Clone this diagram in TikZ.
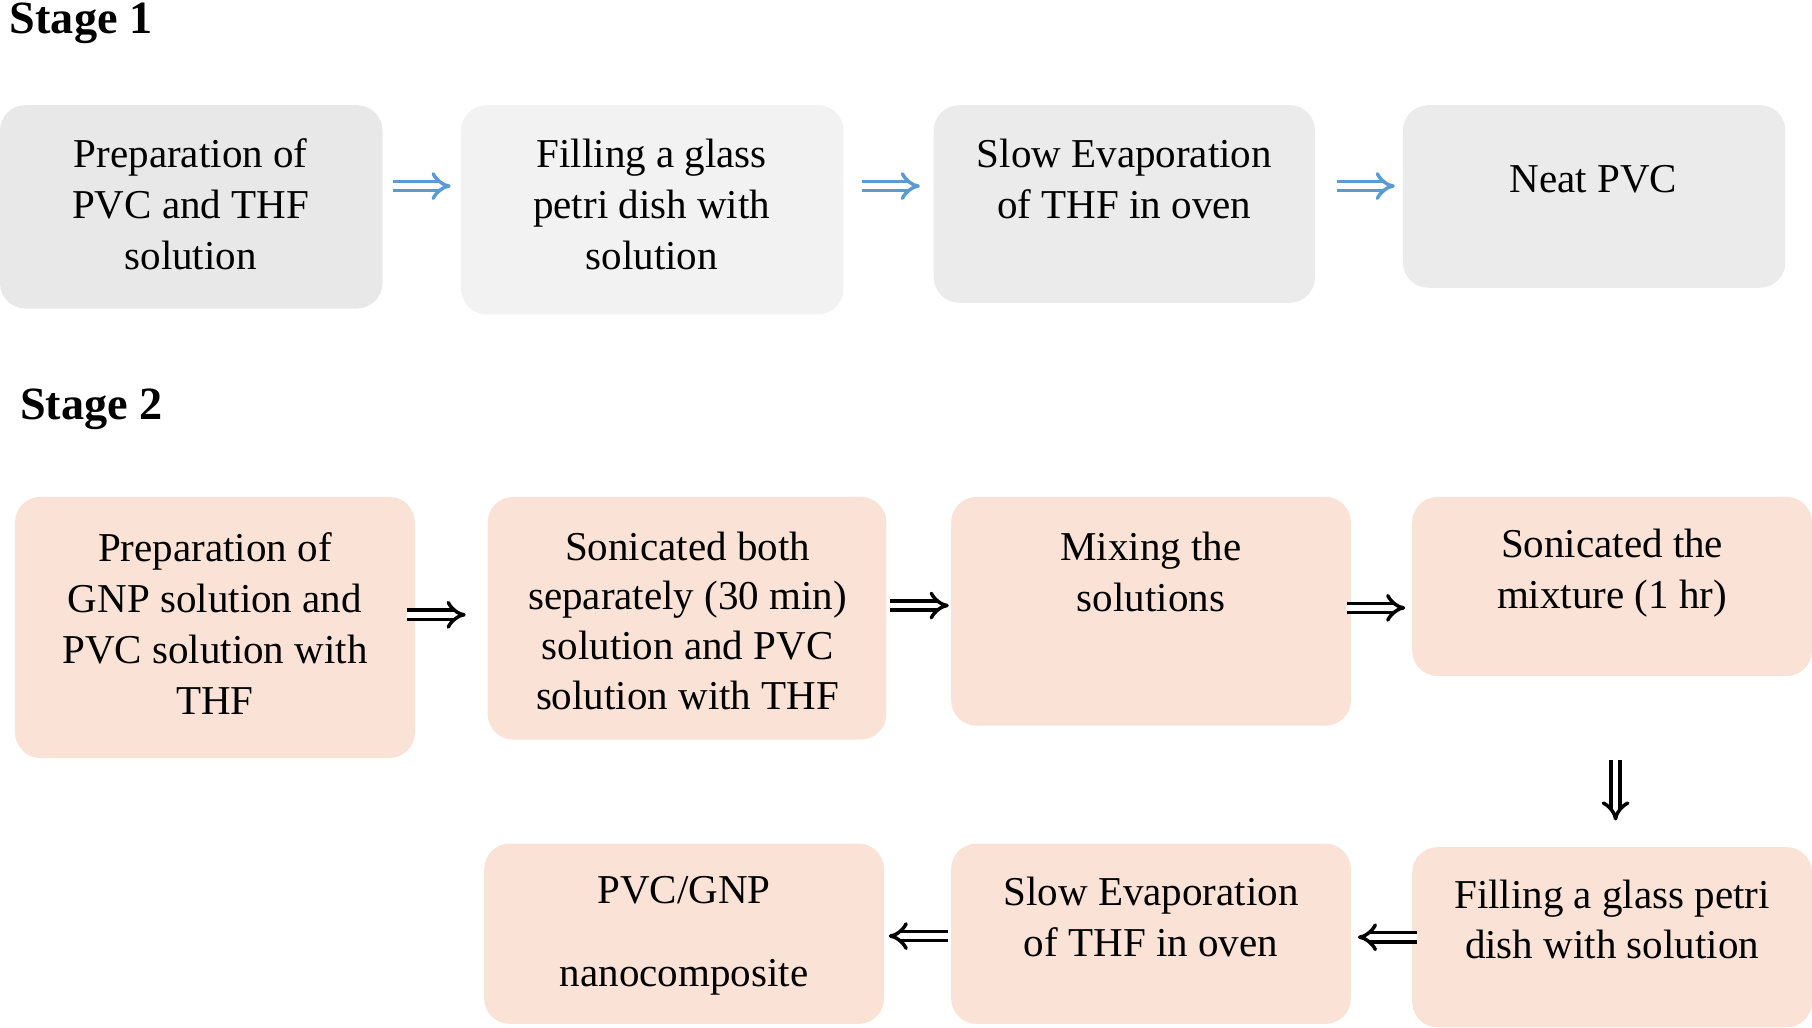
\documentclass[tikz,border=0pt]{standalone}
\usepackage{fontspec}
\setmainfont{Liberation Serif}
\usetikzlibrary{arrows.meta}
\definecolor{peach}{HTML}{FAE3D6}
\definecolor{arrblue}{HTML}{5B9BD5}
\begin{document}
\begin{tikzpicture}[x=1pt,y=-1pt,
  box/.style={draw=none,rounded corners=22pt,inner sep=0pt},
  txt/.style={anchor=north,align=center,font=\fontsize{35.5}{44}\selectfont,inner sep=0pt},
  dar/.style={double,double distance=5pt,line width=3pt,-{Implies},shorten >=0pt},
  bar/.style={dar,draw=arrblue},
  kar/.style={dar,draw=black}]
\useasboundingbox (0,0) rectangle (1568,889);
\newcommand{\bx}[6]{\node[box,fill=#6,minimum width=#4-#2,minimum height=#5-#3] (#1) at ({(#2+#4)/2},{(#3+#5)/2}) {};}
\node[anchor=west,font=\fontsize{40}{44}\selectfont\bfseries] (s1) at (5,20) {Stage 1};
\node[anchor=west,font=\fontsize{40}{44}\selectfont\bfseries] (s2) at (14,354) {Stage 2};
\bx{a1}{0}{91}{331}{267}{black!9}
\bx{a2}{399}{91}{730}{272}{black!5}
\bx{a3}{808}{91}{1138}{262}{black!8}
\bx{a4}{1214}{91}{1545}{249}{black!8}
\node[txt] (ta1) at (165,120) {Preparation of\\PVC and THF\\solution};
\node[txt] (ta2) at (564,120) {Filling a glass\\petri dish with\\solution};
\node[txt] (ta3) at (973,120) {Slow Evaporation\\of THF in oven};
\node[txt] (ta4) at (1379,143) {Neat PVC};
\coordinate (p1) at (340,161); \coordinate (p2) at (390,161);
\coordinate (p3) at (746,161); \coordinate (p4) at (796,161);
\coordinate (p5) at (1157,161); \coordinate (p6) at (1207,161);
\draw[bar] (p1) -- (p2); \draw[bar] (p3) -- (p4); \draw[bar] (p5) -- (p6);
\bx{b1}{13}{430}{359}{656}{peach}
\bx{b2}{422}{430}{767}{640}{peach}
\bx{b3}{823}{430}{1169}{628}{peach}
\bx{b4}{1222}{430}{1568}{585}{peach}
\bx{c1}{1222}{733}{1568}{889}{peach}
\bx{c2}{823}{730}{1169}{886}{peach}
\bx{c3}{419}{730}{765}{886}{peach}
\node[txt] (tb1) at (186,461) {Preparation of\\GNP solution and\\PVC solution with\\THF};
\node[txt,font=\fontsize{35.5}{43}\selectfont] (tb2) at (595,460) {Sonicated both\\separately (30 min)\\solution and PVC\\solution with THF};
\node[txt] (tb3) at (996,460) {Mixing the\\solutions};
\node[txt] (tb4) at (1395,458) {Sonicated the\\mixture (1 hr)};
\node[txt] (tc1) at (1395,761) {Filling a glass petri\\dish with solution};
\node[txt] (tc2) at (996,759) {Slow Evaporation\\of THF in oven};
\node[txt,font=\fontsize{35.5}{72}\selectfont] (tc3) at (592,758) {PVC/GNP\\nanocomposite};
\coordinate (q1) at (352,532); \coordinate (q2) at (403,532);
\draw[kar] (q1) -- (q2);
\coordinate (q3) at (770,524); \coordinate (q4) at (821,524);
\draw[kar] (q3) -- (q4);
\coordinate (q5) at (1166,526); \coordinate (q6) at (1216,526);
\draw[kar] (q5) -- (q6);
\coordinate (q7) at (1398,658); \coordinate (q8) at (1398,710);
\draw[kar] (q7) -- (q8);
\coordinate (q9) at (1226,811); \coordinate (q10) at (1175,811);
\draw[kar] (q9) -- (q10);
\coordinate (q11) at (820,810); \coordinate (q12) at (769,810);
\draw[kar] (q11) -- (q12);
\end{tikzpicture}
\end{document}
